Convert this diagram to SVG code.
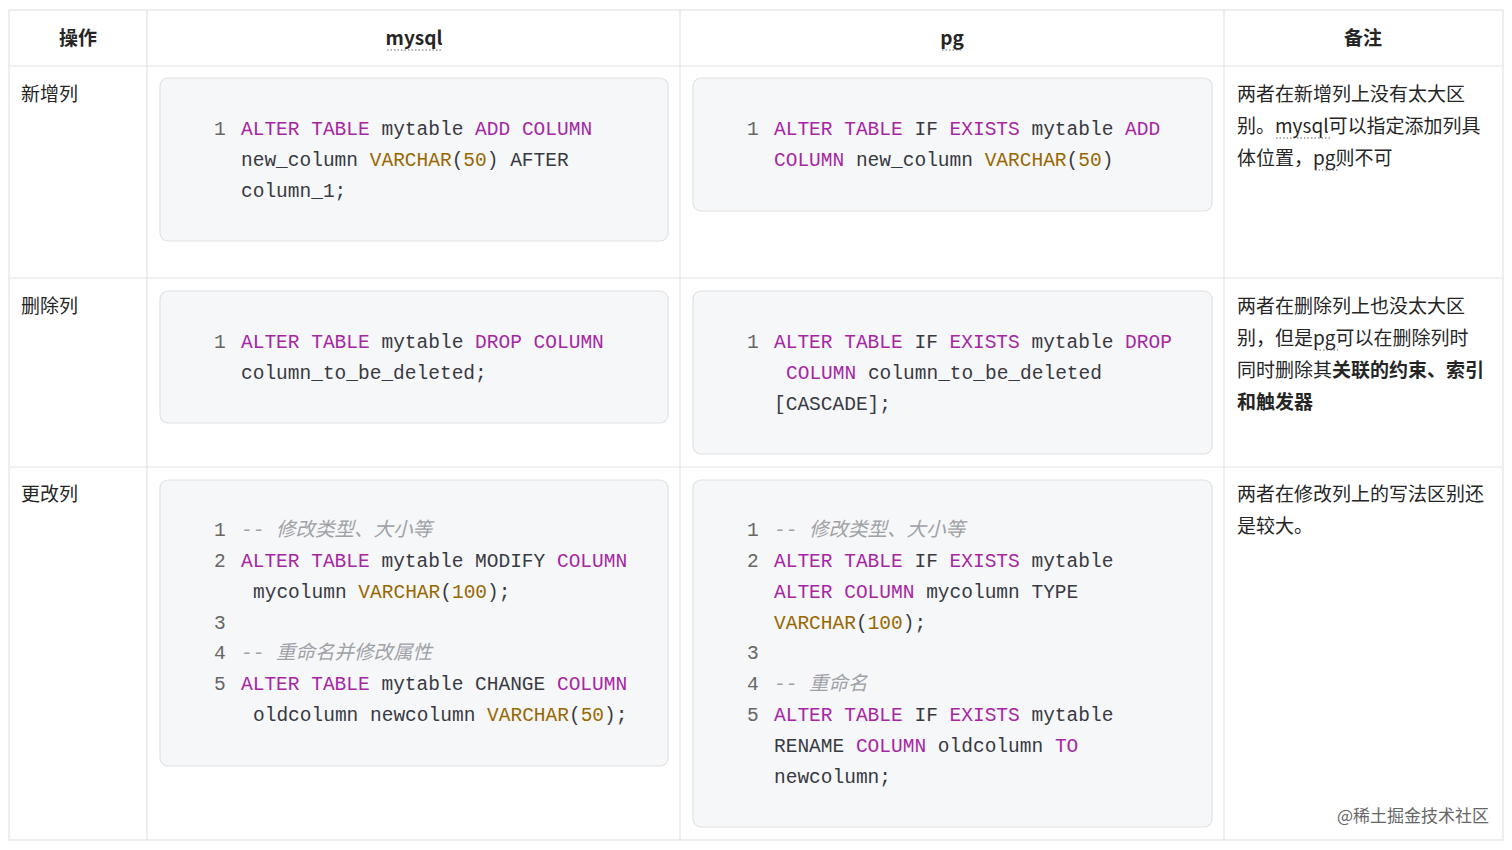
<svg xmlns="http://www.w3.org/2000/svg" width="1512" height="850" viewBox="0 0 1512 850">
<style>
.g{stroke:#e3e3e3;stroke-width:1.2;fill:none}
.box{fill:#f6f7f8;stroke:#e0e1e3;stroke-width:1.2}
.h{font-family:"Noto Sans CJK SC","Liberation Sans",sans-serif;font-size:19px;font-weight:bold;fill:#252525}
.t{font-family:"Noto Sans CJK SC","Liberation Sans",sans-serif;font-size:19px;fill:#252525}
.c{font-family:"Liberation Mono","Noto Sans CJK SC",monospace;font-size:19.5px;fill:#383a42}
.n{fill:#666}
.k{fill:#a626a4}
.y{fill:#986801}
.m{fill:#a0a1a7;font-style:italic}
.u{stroke:#666;stroke-width:1.2;stroke-dasharray:1.5 2}
</style>
<rect width="1512" height="850" fill="#fff"/>
<g id="grid">
<rect class="g" x="9" y="10" width="1494" height="830"/>
<line class="g" x1="147" y1="10" x2="147" y2="840"/><line class="g" x1="680" y1="10" x2="680" y2="840"/><line class="g" x1="1224" y1="10" x2="1224" y2="840"/>
<line class="g" x1="9" y1="66" x2="1503" y2="66"/><line class="g" x1="9" y1="278" x2="1503" y2="278"/><line class="g" x1="9" y1="467" x2="1503" y2="467"/>
</g>
<g id="header">
<text class="h" x="78" y="45" text-anchor="middle">操作</text>
<text class="h" x="414" y="45" text-anchor="middle">mysql</text><line class="u" x1="387" y1="50" x2="442" y2="50"/>
<text class="h" x="952" y="45" text-anchor="middle">pg</text><line class="u" x1="942" y1="50" x2="963" y2="50"/>
<text class="h" x="1363" y="45" text-anchor="middle">备注</text>
</g>
<g id="row1">
<text class="t" x="21" y="101">新增列</text>
<rect class="box" x="160" y="78" width="508" height="163" rx="8"/>
<text class="c" xml:space="preserve"><tspan x="214" y="135" class="n">1</tspan><tspan x="241" y="135"><tspan class="k">ALTER</tspan> <tspan class="k">TABLE</tspan> mytable <tspan class="k">ADD</tspan> <tspan class="k">COLUMN</tspan></tspan><tspan x="241" y="166">new_column <tspan class="y">VARCHAR</tspan>(<tspan class="y">50</tspan>) AFTER</tspan><tspan x="241" y="197">column_1;</tspan></text>
<rect class="box" x="693" y="78" width="519" height="133" rx="8"/>
<text class="c" xml:space="preserve"><tspan x="747" y="135" class="n">1</tspan><tspan x="774" y="135"><tspan class="k">ALTER</tspan> <tspan class="k">TABLE</tspan> IF <tspan class="k">EXISTS</tspan> mytable <tspan class="k">ADD</tspan></tspan><tspan x="774" y="166"><tspan class="k">COLUMN</tspan> new_column <tspan class="y">VARCHAR</tspan>(<tspan class="y">50</tspan>)</tspan></text>
<text class="t"><tspan x="1237" y="101">两者在新增列上没有太大区</tspan><tspan x="1237" y="133">别。mysql可以指定添加列具</tspan><tspan x="1237" y="165">体位置，pg则不可</tspan></text>
<line class="u" x1="1276" y1="138" x2="1330" y2="138"/><line class="u" x1="1315" y1="170" x2="1338" y2="170"/>
</g>
<g id="row2">
<text class="t" x="21" y="313">删除列</text>
<rect class="box" x="160" y="291" width="508" height="132" rx="8"/>
<text class="c" xml:space="preserve"><tspan x="214" y="348" class="n">1</tspan><tspan x="241" y="348"><tspan class="k">ALTER</tspan> <tspan class="k">TABLE</tspan> mytable <tspan class="k">DROP</tspan> <tspan class="k">COLUMN</tspan></tspan><tspan x="241" y="379">column_to_be_deleted;</tspan></text>
<rect class="box" x="693" y="291" width="519" height="163" rx="8"/>
<text class="c" xml:space="preserve"><tspan x="747" y="348" class="n">1</tspan><tspan x="774" y="348"><tspan class="k">ALTER</tspan> <tspan class="k">TABLE</tspan> IF <tspan class="k">EXISTS</tspan> mytable <tspan class="k">DROP</tspan></tspan><tspan x="786" y="379"><tspan class="k">COLUMN</tspan> column_to_be_deleted</tspan><tspan x="774" y="410">[CASCADE];</tspan></text>
<text class="t"><tspan x="1237" y="313">两者在删除列上也没太大区</tspan><tspan x="1237" y="345">别，但是pg可以在删除列时</tspan><tspan x="1237" y="377">同时删除其<tspan font-weight="bold">关联的约束、索引</tspan></tspan><tspan x="1237" y="409" font-weight="bold">和触发器</tspan></text>
<line class="u" x1="1316" y1="350" x2="1338" y2="350"/>
</g>
<g id="row3">
<text class="t" x="21" y="501">更改列</text>
<rect class="box" x="160" y="480" width="508" height="286" rx="8"/>
<text class="c" xml:space="preserve"><tspan x="214" y="536" class="n">1</tspan><tspan x="241" y="536" class="m">-- 修改类型、大小等</tspan><tspan x="214" y="567" class="n">2</tspan><tspan x="241" y="567"><tspan class="k">ALTER</tspan> <tspan class="k">TABLE</tspan> mytable MODIFY <tspan class="k">COLUMN</tspan></tspan><tspan x="253" y="598">mycolumn <tspan class="y">VARCHAR</tspan>(<tspan class="y">100</tspan>);</tspan><tspan x="214" y="629" class="n">3</tspan><tspan x="214" y="659" class="n">4</tspan><tspan x="241" y="659" class="m">-- 重命名并修改属性</tspan><tspan x="214" y="690" class="n">5</tspan><tspan x="241" y="690"><tspan class="k">ALTER</tspan> <tspan class="k">TABLE</tspan> mytable CHANGE <tspan class="k">COLUMN</tspan></tspan><tspan x="253" y="721">oldcolumn newcolumn <tspan class="y">VARCHAR</tspan>(<tspan class="y">50</tspan>);</tspan></text>
<rect class="box" x="693" y="480" width="519" height="347" rx="8"/>
<text class="c" xml:space="preserve"><tspan x="747" y="536" class="n">1</tspan><tspan x="774" y="536" class="m">-- 修改类型、大小等</tspan><tspan x="747" y="567" class="n">2</tspan><tspan x="774" y="567"><tspan class="k">ALTER</tspan> <tspan class="k">TABLE</tspan> IF <tspan class="k">EXISTS</tspan> mytable</tspan><tspan x="774" y="598"><tspan class="k">ALTER</tspan> <tspan class="k">COLUMN</tspan> mycolumn TYPE</tspan><tspan x="774" y="629"><tspan class="y">VARCHAR</tspan>(<tspan class="y">100</tspan>);</tspan><tspan x="747" y="659" class="n">3</tspan><tspan x="747" y="690" class="n">4</tspan><tspan x="774" y="690" class="m">-- 重命名</tspan><tspan x="747" y="721" class="n">5</tspan><tspan x="774" y="721"><tspan class="k">ALTER</tspan> <tspan class="k">TABLE</tspan> IF <tspan class="k">EXISTS</tspan> mytable</tspan><tspan x="774" y="752">RENAME <tspan class="k">COLUMN</tspan> oldcolumn <tspan class="k">TO</tspan></tspan><tspan x="774" y="783">newcolumn;</tspan></text>
<text class="t"><tspan x="1237" y="501">两者在修改列上的写法区别还</tspan><tspan x="1237" y="533">是较大。</tspan></text>
</g>
<text x="1489" y="822" text-anchor="end" font-family="Noto Sans CJK SC,Liberation Sans,sans-serif" font-size="17" fill="#666">@稀土掘金技术社区</text>
</svg>
